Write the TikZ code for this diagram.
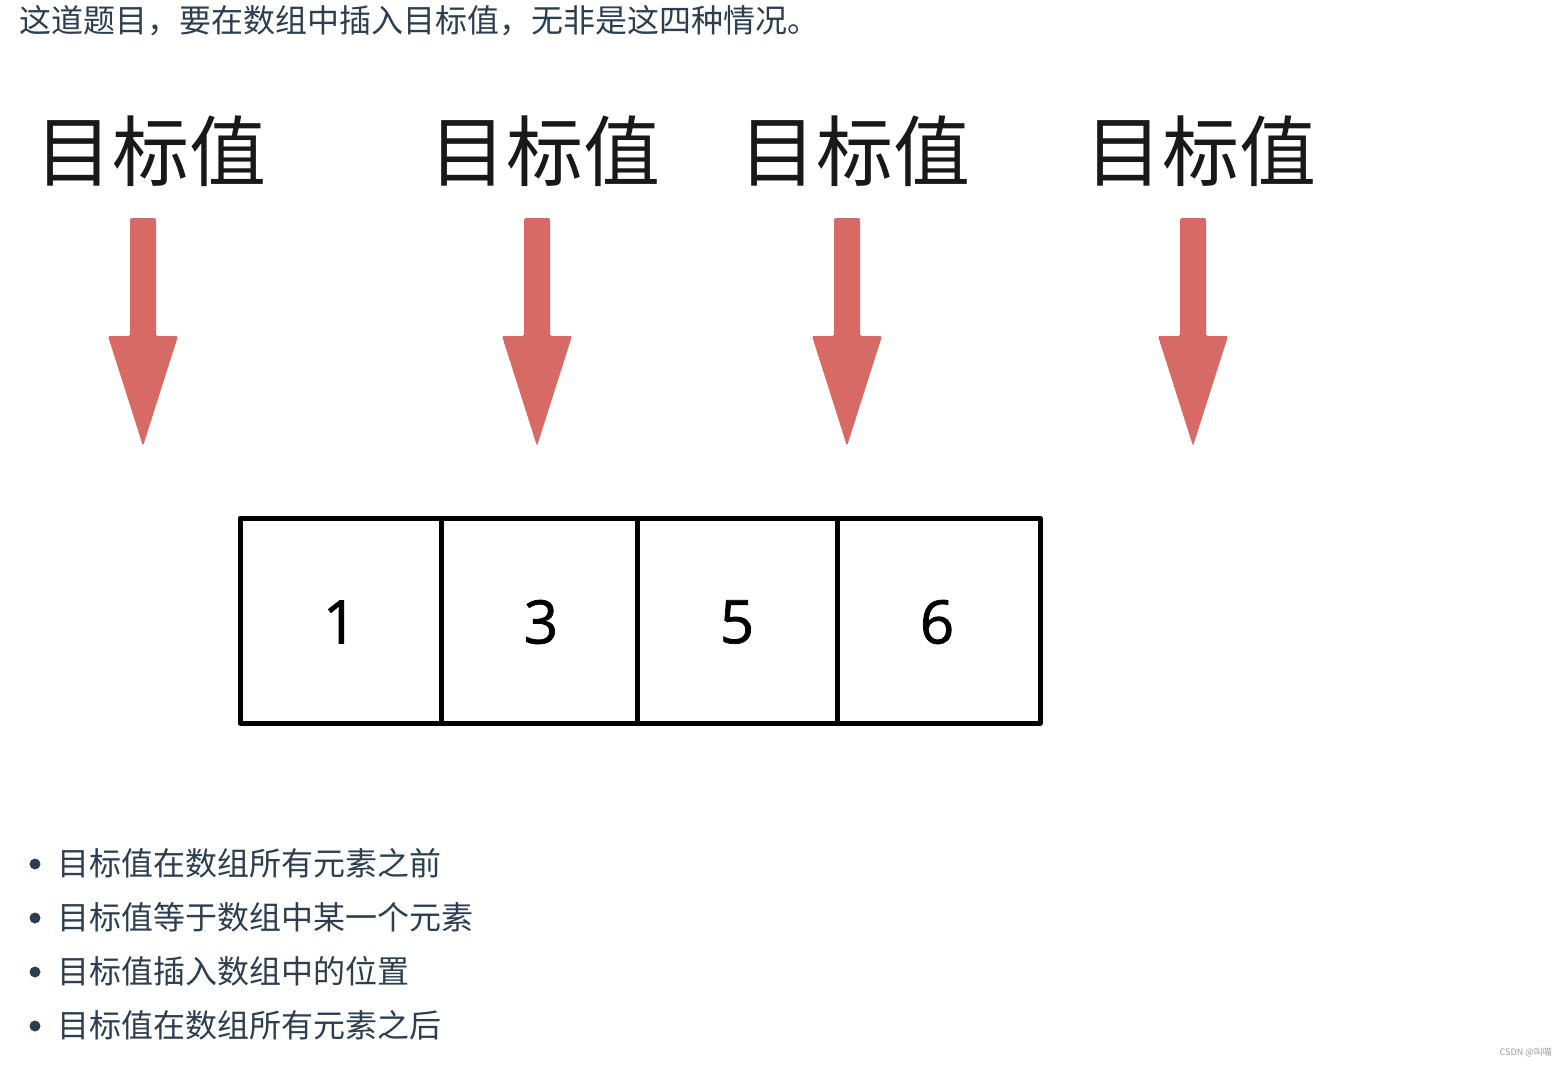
\documentclass[tikz,border=0pt]{standalone}
\usepackage{fontspec}
\usepackage{tikz}
\usepackage[dvipsnames]{xcolor}
\newfontfamily\cjk{Noto Sans CJK SC}
\newfontfamily\digitfont{Open Sans}[FakeBold=1.2]
\definecolor{textgray}{HTML}{2C3E50}
\definecolor{arrowred}{HTML}{D86A66}
\definecolor{markgray}{HTML}{9A9A9A}

\begin{document}
\begin{tikzpicture}[x=1pt, y=-1pt,
    bigtarget/.style={inner sep=0pt, font=\cjk\fontsize{77}{80}\selectfont, text=black!90},
    bodytext/.style={inner sep=0pt, anchor=west, font=\cjk\fontsize{32}{38}\selectfont, text=textgray},
    digit/.style={inner sep=0pt, font=\digitfont\fontsize{60}{60}\selectfont, text=black}]
  \useasboundingbox[fill=white] (0,0) rectangle (1566,1068);
  % intro line
  \node[bodytext] (intro) at (19, 21) {这道题目，要在数组中插入目标值，无非是这四种情况。};
  % labels and block arrows
  \foreach \i/\cx in {1/143, 2/537, 3/847, 4/1193} {
    \node[bigtarget] (lbl\i) at (\cx+8, 151) {目标值};
    \begin{scope}[shift={(\cx, 0)}]
      \fill[arrowred, rounded corners=1.5pt] (-13, 218) -- (13, 218) -- (13, 336) -- (35, 336)
        -- (0, 446) -- (-35, 336) -- (-13, 336) -- cycle;
    \end{scope}
  }
  % the array
  \draw[line width=5pt, line join=round] (240, 518) rectangle (1040, 723);
  \foreach \xd in {441, 637, 837}
    \draw[line width=5pt] (\xd, 518) -- (\xd, 723);
  \node[digit] (v1) at (340, 622) {1};
  \node[digit] (v3) at (541, 622) {3};
  \node[digit] (v5) at (737, 622) {5};
  \node[digit] (v6) at (937, 622) {6};
  % cases
  \foreach \j/\yc/\txt in {1/864/目标值在数组所有元素之前, 2/918/目标值等于数组中某一个元素,
                           3/972/目标值插入数组中的位置, 4/1026/目标值在数组所有元素之后} {
    \fill[textgray] (35, \yc) circle (5.5pt);
    \node[bodytext] (case\j) at (57, \yc-1) {\txt};
  }
  \node[inner sep=0pt, anchor=east, font=\cjk\fontsize{9}{10}\selectfont, text=markgray] (mark) at (1552, 1053) {CSDN @叫喵};
\end{tikzpicture}
\end{document}
